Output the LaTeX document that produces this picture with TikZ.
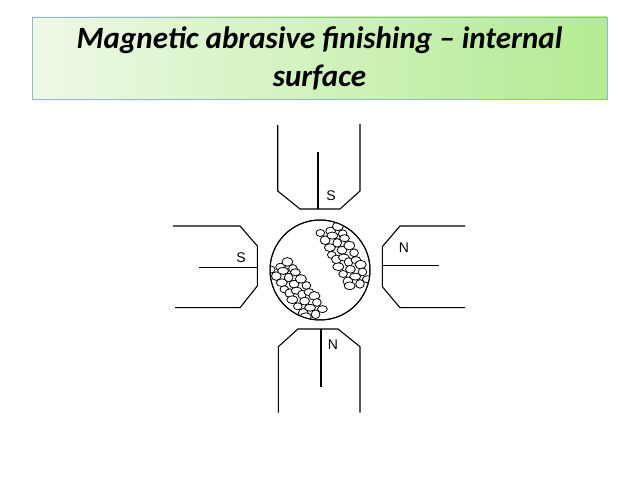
\documentclass[tikz,border=0pt]{standalone}
\usepackage{fontspec}
\setmainfont{Carlito}
\newfontfamily\lab{Liberation Sans}
\definecolor{gl}{HTML}{EEF9E6}
\definecolor{gr}{HTML}{B3EB92}
\definecolor{bd}{HTML}{8FB4DE}
\begin{document}
\begin{tikzpicture}[x=1pt,y=-1pt,line width=1.1pt,
  pole/.style={draw=black,line width=1.1pt},
  ptl/.style={draw=black,fill=white,line width=0.8pt},
  lbl/.style={font=\lab\fontsize{14}{14}\selectfont,inner sep=0}]
\useasboundingbox (0,0) rectangle (638,478);
\shade[left color=gl,right color=gr,draw=bd,line width=0.8pt] (32,17) rectangle (607,99);
\node[align=center,font=\bfseries\itshape\fontsize{31}{38}\selectfont,inner sep=0] (title) at (319.5,58) {Magnetic abrasive finishing – internal\\surface};
% top pole
\draw[pole] (277.7,125) -- (277.7,191) -- (300,209) -- (340,209) -- (360,191) -- (360,124);
\coordinate (tc) at (318,209); \coordinate (tt) at (318,152);
\draw[pole] (tt) -- (tc);
\node[lbl] (ts) at (331,196) {S};
% left pole
\draw[pole] (173,226) -- (240,226) -- (257.3,246) -- (257.3,286) -- (240,307.7) -- (175,307.7);
\coordinate (lc) at (257,267.7); \coordinate (lt) at (199,267.7);
\draw[pole] (lt) -- (lc);
\node[lbl] (ls) at (241,258) {S};
% right pole
\draw[pole] (465,226) -- (400,226) -- (382.3,246.7) -- (382.3,286.7) -- (400,307.7) -- (465,307.7);
\coordinate (rc) at (382,265.3); \coordinate (rt) at (439,265.3);
\draw[pole] (rc) -- (rt);
\node[lbl] (rn) at (404,248) {N};
% bottom pole
\draw[pole] (278.3,412.7) -- (278.3,346.7) -- (298,329) -- (338,329) -- (360,346.7) -- (360,412.7);
\coordinate (bc) at (321,329); \coordinate (bt) at (321,386.7);
\draw[pole] (bc) -- (bt);
\node[lbl] (bn) at (333,345) {N};
% tube
\node[draw,circle,minimum size=100pt,inner sep=0,line width=1pt] (tube) at (320,270) {};
% particles
\begin{scope}
\clip (320,270) circle (49.5);
\foreach \t in {0,...,8}{
  \foreach \s/\j in {-1/0,0/1,1/2}{
    \pgfmathsetmacro{\px}{330+\t*3.6+\s*8.5+mod(\t*7+\j*3,5)*0.6-1.2}
    \pgfmathsetmacro{\py}{229+\t*6.6-\s*4+mod(\t*5+\j*7,4)*0.7}
    \pgfmathsetmacro{\rx}{4.3+mod(\t+\j,3)*0.6}
    \pgfmathsetmacro{\ry}{3.5+mod(\t*2+\j,3)*0.4}
    \draw[ptl] (\px,\py) ellipse ({\rx} and {\ry});
  }
}
\foreach \t in {0,...,8}{
  \foreach \s/\j in {-1/0,0/1,1/2}{
    \pgfmathsetmacro{\px}{280+\t*4.3+\s*8+mod(\t*7+\j*3,5)*0.6-1.2}
    \pgfmathsetmacro{\py}{265+\t*5.9-\s*4.5+mod(\t*5+\j*7,4)*0.7}
    \pgfmathsetmacro{\rx}{4.3+mod(\t+\j,3)*0.6}
    \pgfmathsetmacro{\ry}{3.5+mod(\t*2+\j,3)*0.4}
    \draw[ptl] (\px,\py) ellipse ({\rx} and {\ry});
  }
}
\end{scope}
\draw[line width=1pt] (tube.center) circle (50);
\end{tikzpicture}
\end{document}
